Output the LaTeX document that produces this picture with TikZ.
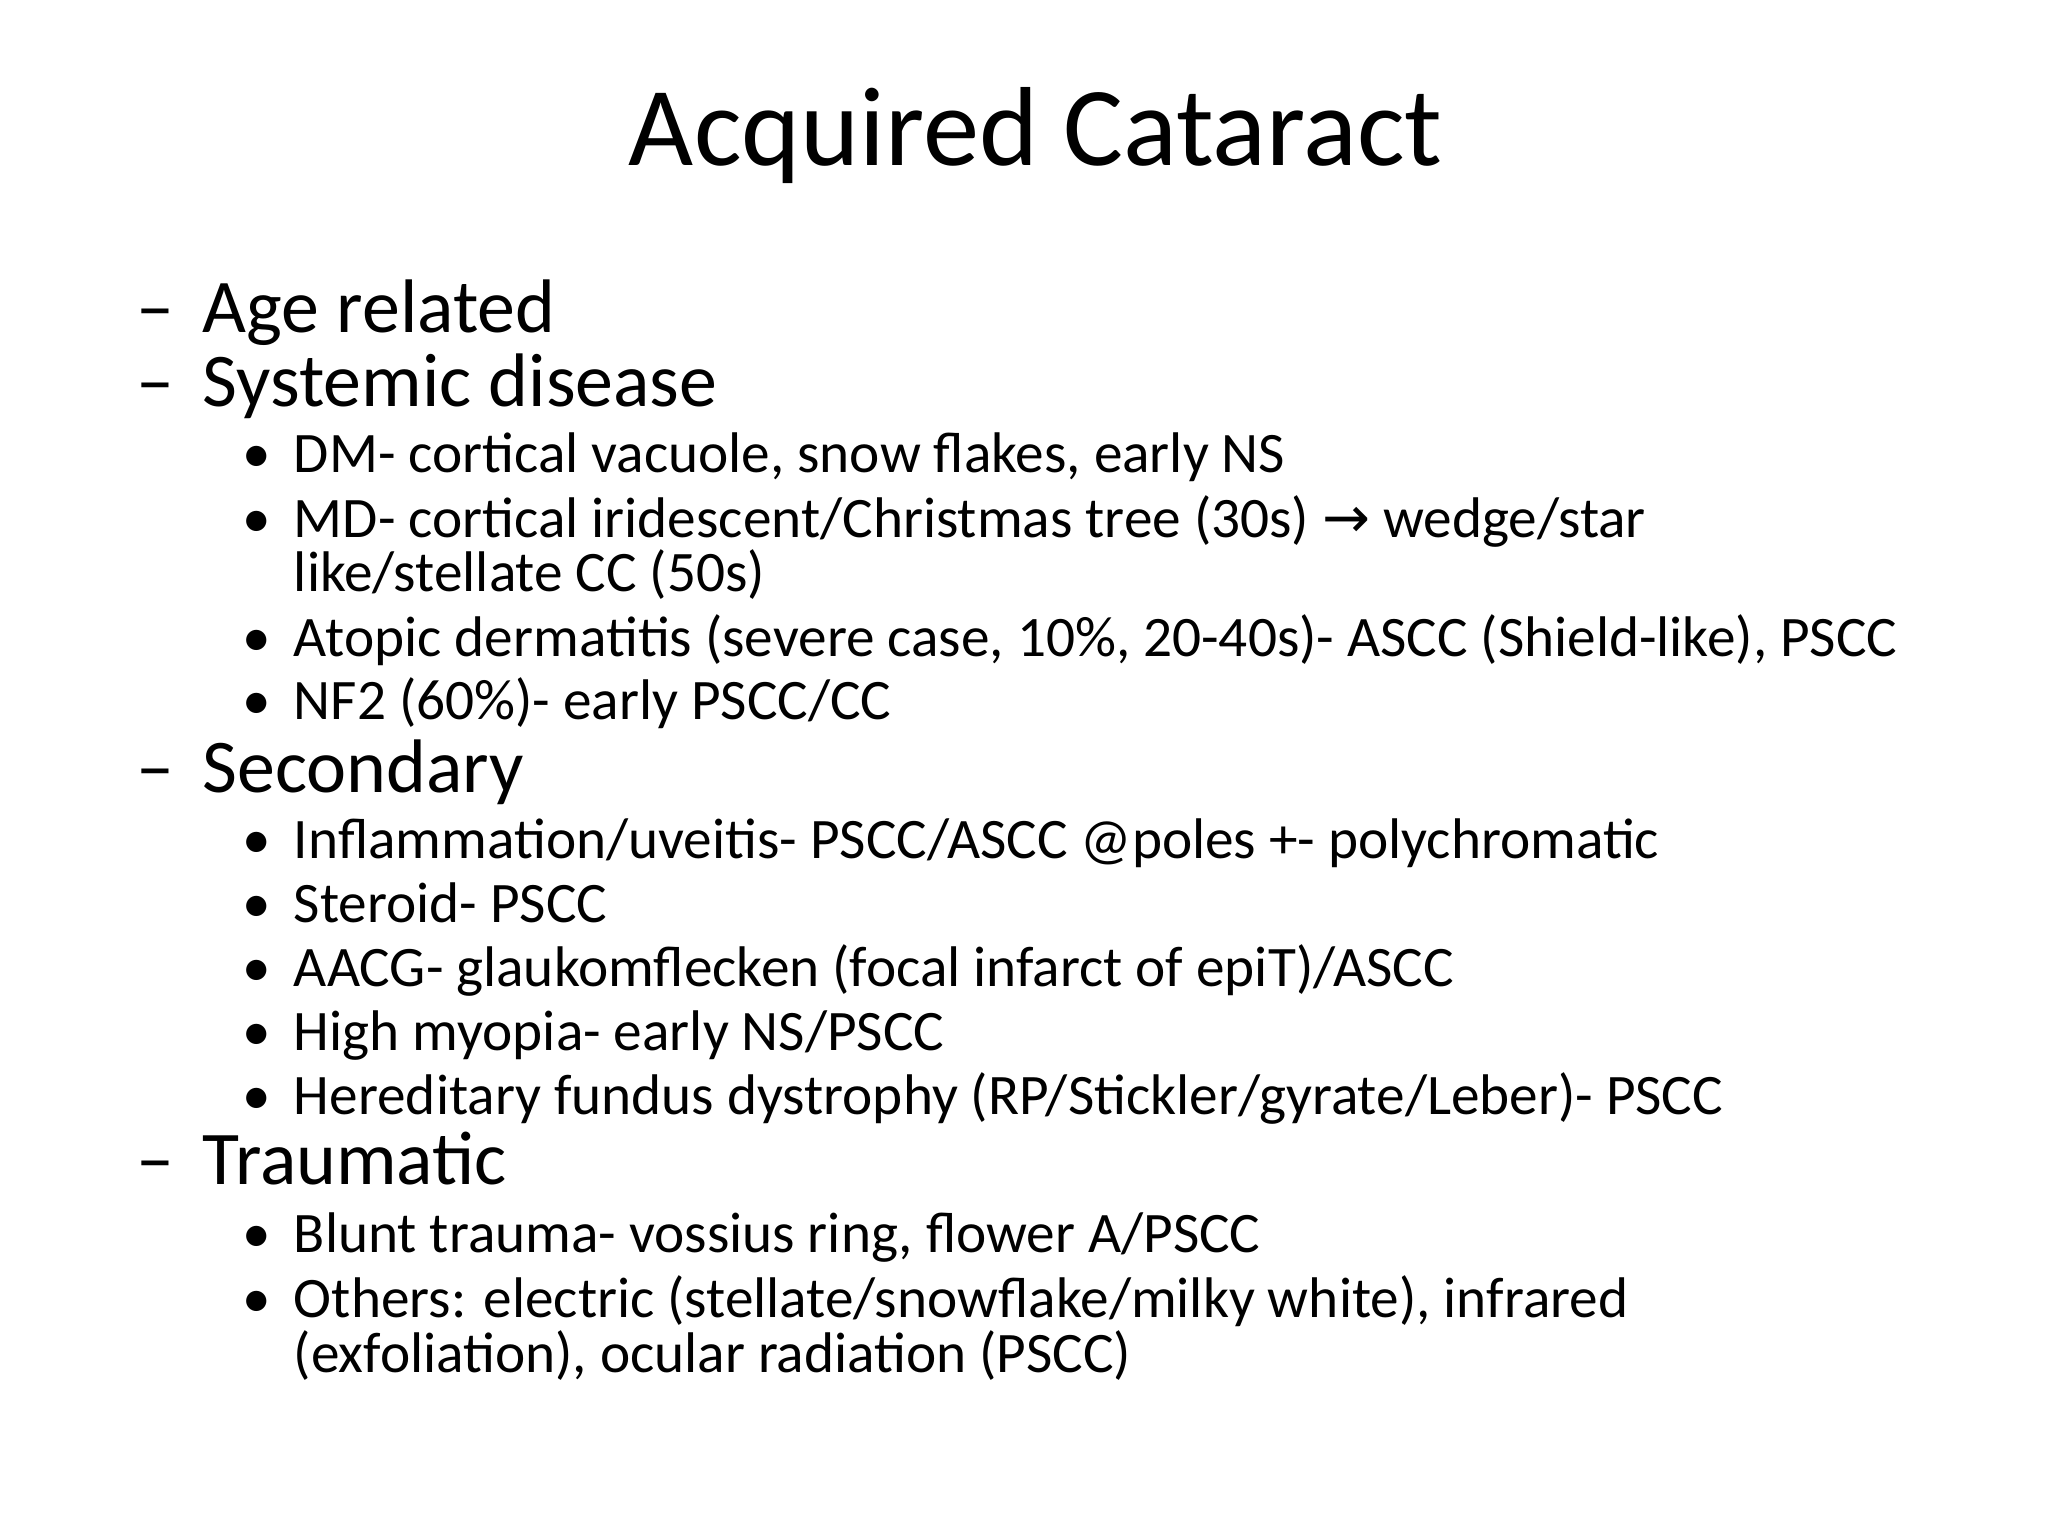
\documentclass[tikz,border=0pt]{standalone}
\usepackage{fontspec}
\setmainfont{Carlito}
\newfontfamily\symfont{DejaVu Sans}
\begin{document}
\begin{tikzpicture}[x=0.01321cm,y=-0.01321cm,
  title/.style={anchor=base,inner sep=0pt,font=\fontsize{32}{38}\selectfont},
  lone/.style={anchor=base west,inner sep=0pt,font=\fontsize{21.6}{26}\selectfont},
  ltwo/.style={anchor=base west,inner sep=0pt,font=\fontsize{16.3}{20}\selectfont}]
\useasboundingbox (0,0) rectangle (1550.3,1162.7);
\fill[white] (0,0) rectangle (1550.3,1162.7);
\node[title] (t) at (784,125) {Acquired Cataract};
\foreach \y/\n/\txt in {252/a/Age related,308/b/Systemic disease,600/c/Secondary,897/d/Traumatic}{
  \node[lone] (d\n) at (103,\y) {–};
  \node[lone] (l\n) at (153,\y) {\txt};
}
\foreach \y/\n in {358/1,407/2,497/3,545/4,650/5,698/6,747/7,795/8,844/9,948/10,997/11}{
  \node[ltwo] (b\n) at (183,\y) {•};
}
\node[ltwo] (s1) at (222,358) {DM- cortical vacuole, snow flakes, early NS};
\node[ltwo] (s2) at (222,407) {MD- cortical iridescent/Christmas tree (30s) {\symfont →} wedge/star};
\node[ltwo] (s2b) at (222,448) {like/stellate CC (50s)};
\node[ltwo] (s3) at (222,497) {Atopic dermatitis (severe case, 10\%, 20-40s)- ASCC (Shield-like), PSCC};
\node[ltwo] (s4) at (222,545) {NF2 (60\%)- early PSCC/CC};
\node[ltwo] (s5) at (222,650) {Inflammation/uveitis- PSCC/ASCC @poles +- polychromatic};
\node[ltwo] (s6) at (222,698) {Steroid- PSCC};
\node[ltwo] (s7) at (222,747) {AACG- glaukomflecken (focal infarct of epiT)/ASCC};
\node[ltwo] (s8) at (222,795) {High myopia- early NS/PSCC};
\node[ltwo] (s9) at (222,844) {Hereditary fundus dystrophy (RP/Stickler/gyrate/Leber)- PSCC};
\node[ltwo] (s10) at (222,948) {Blunt trauma- vossius ring, flower A/PSCC};
\node[ltwo] (s11) at (222,997) {Others: electric (stellate/snowflake/milky white), infrared};
\node[ltwo] (s11b) at (222,1039) {(exfoliation), ocular radiation (PSCC)};
\end{tikzpicture}
\end{document}
